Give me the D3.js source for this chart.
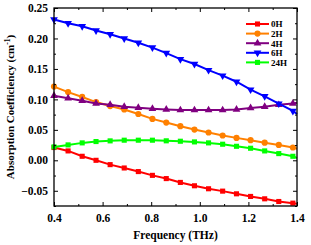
<!DOCTYPE html>
<html>
<head>
<meta charset="utf-8">
<script src="https://cdn.jsdelivr.net/npm/d3@7"></script>
<style>
  body { margin: 0; background: #fff; }
  text { font-family: "Liberation Serif", "Times New Roman", serif; font-weight: bold; }
</style>
</head>
<body>
<svg id="chart" width="311" height="245"></svg>
<script>
// frequency (THz), marker points plus the line end at 1.4
var freq = [0.400, 0.458, 0.516, 0.573, 0.631, 0.689, 0.747, 0.805, 0.862, 0.920,
            0.978, 1.036, 1.094, 1.151, 1.209, 1.267, 1.325, 1.383, 1.400];
var h0  = [0.021, 0.0154, 0.0066, 0.0, -0.0071, -0.0126, -0.0185, -0.0247, -0.030, -0.0363,
           -0.0418, -0.0467, -0.0506, -0.055, -0.0593, -0.0632, -0.0676, -0.0703, -0.0714];
var h2  = [0.121, 0.112, 0.104, 0.0956, 0.089, 0.0835, 0.076, 0.068, 0.062, 0.056,
           0.0505, 0.0456, 0.0407, 0.0368, 0.033, 0.029, 0.0253, 0.021, 0.019];
var h4  = [0.106, 0.1017, 0.0978, 0.0934, 0.0912, 0.088, 0.0862, 0.0846, 0.0835, 0.0824,
           0.0824, 0.0824, 0.0824, 0.0835, 0.0857, 0.088, 0.091, 0.0934, 0.0945];
var h6  = [0.231, 0.225, 0.220, 0.213, 0.207, 0.200, 0.193, 0.185, 0.176, 0.166,
           0.158, 0.148, 0.139, 0.129, 0.116, 0.105, 0.093, 0.081, 0.076];
var h24 = [0.022, 0.0253, 0.0286, 0.0308, 0.0319, 0.033, 0.033, 0.033, 0.032, 0.0313,
           0.0302, 0.0286, 0.0264, 0.023, 0.0198, 0.0154, 0.011, 0.0066, 0.0038];
var names = ["0H", "2H", "4H", "6H", "24H"];
var xTicks = [0.4, 0.6, 0.8, 1.0, 1.2, 1.4];
var yTicks = [-0.05, 0.00, 0.05, 0.10, 0.15, 0.20, 0.25];

var series = [
  {name: names[0], values: h0,  color: "#ff0000", symbol: d3.symbolSquare,   size: 26},
  {name: names[1], values: h2,  color: "#ff8000", symbol: d3.symbolCircle,   size: 30},
  {name: names[2], values: h4,  color: "#800080", symbol: d3.symbolTriangle, size: 26},
  {name: names[3], values: h6,  color: "#0000ff", symbol: d3.symbolTriangle, size: 26, flip: true},
  {name: names[4], values: h24, color: "#00ff00", symbol: d3.symbolSquare,   size: 26}
];

var svg = d3.select('#chart');
var pLeft = 54, pRight = 297, pTop = 8, pBottom = 206;

var x = d3.scaleLinear().domain([0.4, 1.4]).range([pLeft, pRight]);
var y = d3.scaleLinear().domain([-0.075, 0.25]).range([pBottom, pTop]);

// data lines and markers
var line = d3.line().x(function(d, i) { return x(freq[i]); }).y(function(d) { return y(d); });
var plot = svg.append('g');
series.forEach(function(s) {
    plot.append('path')
        .attr('d', line(s.values))
        .attr('fill', 'none')
        .attr('stroke', s.color)
        .attr('stroke-width', 2);
    var sym = d3.symbol().type(s.symbol).size(s.size);
    plot.selectAll(null)
        .data(s.values.slice(0, freq.length - 1))
        .enter().append('path')
        .attr('d', sym)
        .attr('fill', s.color)
        .attr('transform', function(d, i) {
            return 'translate(' + x(freq[i]) + ',' + y(d) + ')' + (s.flip ? ' rotate(180)' : '');
        });
});

// frame with inward ticks
function axisGroup(axis, tx, ty) {
    var g = svg.append('g').attr('transform', 'translate(' + tx + ',' + ty + ')').call(axis);
    g.select('.domain').remove();
    g.selectAll('.tick line').attr('stroke', '#000').attr('stroke-width', 1);
    return g;
}
var xMinor = [0.5, 0.7, 0.9, 1.1, 1.3];
var yMinor = [-0.075, -0.025, 0.025, 0.075, 0.125, 0.175, 0.225];

var gb = axisGroup(d3.axisBottom(x).tickValues(xTicks).tickSizeInner(-4).tickSizeOuter(0).tickPadding(8)
    .tickFormat(d3.format('.1f')), 0, pBottom);
gb.selectAll('text').attr('font-size', 11.5).attr('fill', '#000');
axisGroup(d3.axisBottom(x).tickValues(xMinor).tickSizeInner(-2).tickSizeOuter(0).tickFormat(''), 0, pBottom);
axisGroup(d3.axisTop(x).tickValues(xTicks).tickSizeInner(-4).tickSizeOuter(0).tickFormat(''), 0, pTop);
axisGroup(d3.axisTop(x).tickValues(xMinor).tickSizeInner(-2).tickSizeOuter(0).tickFormat(''), 0, pTop);

var gl = axisGroup(d3.axisLeft(y).tickValues(yTicks).tickSizeInner(-4).tickSizeOuter(0).tickPadding(6)
    .tickFormat(d3.format('.2f')), pLeft, 0);
gl.selectAll('text').attr('font-size', 11.5).attr('fill', '#000');
axisGroup(d3.axisLeft(y).tickValues(yMinor).tickSizeInner(-2).tickSizeOuter(0).tickFormat(''), pLeft, 0);
axisGroup(d3.axisRight(y).tickValues(yTicks).tickSizeInner(-4).tickSizeOuter(0).tickFormat(''), pRight, 0);
axisGroup(d3.axisRight(y).tickValues(yMinor).tickSizeInner(-2).tickSizeOuter(0).tickFormat(''), pRight, 0);
svg.append('rect')
    .attr('x', pLeft).attr('y', pTop)
    .attr('width', pRight - pLeft).attr('height', pBottom - pTop)
    .attr('fill', 'none').attr('stroke', '#000').attr('stroke-width', 1.3);

// axis titles
svg.append('text')
    .attr('x', (pLeft + pRight) / 2).attr('y', 239)
    .attr('text-anchor', 'middle').attr('font-size', 11.5)
    .text('Frequency (THz)');
var yt = svg.append('text')
    .attr('transform', 'translate(14,' + ((pTop + pBottom) / 2) + ') rotate(-90)')
    .attr('text-anchor', 'middle').attr('font-size', 11);
yt.append('tspan').text('Absorption Coefficiency (cm');
yt.append('tspan').attr('font-size', 7.5).attr('dy', -4).text('-1');
yt.append('tspan').attr('dy', 4).text(')');

// legend
var leg = svg.append('g');
series.forEach(function(s, i) {
    var ly = 24 + i * 9.6;
    leg.append('line')
        .attr('x1', 246).attr('x2', 269).attr('y1', ly).attr('y2', ly)
        .attr('stroke', s.color).attr('stroke-width', 2);
    leg.append('path')
        .attr('d', d3.symbol().type(s.symbol).size(s.size)())
        .attr('fill', s.color)
        .attr('transform', 'translate(257.5,' + ly + ')' + (s.flip ? ' rotate(180)' : ''));
    leg.append('text')
        .attr('x', 271).attr('y', ly + 3.3)
        .attr('font-size', 9)
        .text(s.name);
});
</script>
</body>
</html>
